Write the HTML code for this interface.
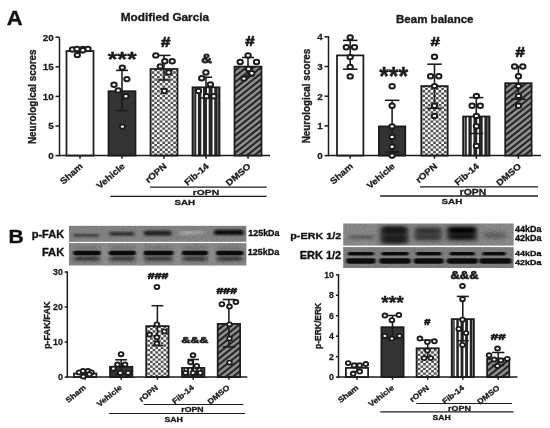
<!DOCTYPE html><html><head><meta charset="utf-8"><title>Figure</title><style>html,body{margin:0;padding:0;background:#fff}svg{display:block;filter:blur(0.35px)}</style></head><body><svg width="550" height="428" viewBox="0 0 550 428" font-family="'Liberation Sans', sans-serif" font-weight="bold">
<defs>
<filter id="b1" x="-20%" y="-100%" width="140%" height="300%"><feGaussianBlur stdDeviation="0.9 0.6"/></filter>
<filter id="b2" x="-20%" y="-100%" width="140%" height="300%"><feGaussianBlur stdDeviation="2 1.6"/></filter>
</defs>
<rect width="550" height="428" fill="#fff"/>

<defs><clipPath id="c1"><rect x="69" y="225.8" width="177.4" height="16"/></clipPath><clipPath id="c2"><rect x="69" y="243.1" width="177.4" height="22.4"/></clipPath><clipPath id="c3"><rect x="343.2" y="223.5" width="170.5" height="22.1"/></clipPath><clipPath id="c4"><rect x="343.2" y="247.1" width="170.5" height="20.9"/></clipPath>
<filter id="grain" x="0" y="0" width="100%" height="100%"><feTurbulence type="fractalNoise" baseFrequency="0.55" numOctaves="2" seed="7" result="n"/><feColorMatrix in="n" type="matrix" values="0 0 0 0 0  0 0 0 0 0  0 0 0 0 0  0.9 0.9 0 0 -0.62"/><feComposite operator="in" in2="SourceGraphic"/></filter>
<filter id="b4" x="-20%" y="-150%" width="140%" height="400%"><feGaussianBlur stdDeviation="1.7 0.9"/></filter>
<filter id="b3" x="-30%" y="-60%" width="160%" height="220%"><feGaussianBlur stdDeviation="2.6 2.2"/></filter>
</defs>
<text transform="translate(6.83,24.93) scale(0.2200,0.2065)" font-size="100" fill="#111" stroke="#111" stroke-width="1.64" stroke-linejoin="round">A</text>
<text transform="translate(8.61,243.42) scale(0.2106,0.1891)" font-size="100" fill="#111" stroke="#111" stroke-width="1.75" stroke-linejoin="round">B</text>
<rect x="66.50" y="51.00" width="27.00" height="104.60" fill="#fff" stroke="#1c1c1c" stroke-width="1.75"/>
<rect x="108.50" y="91.20" width="27.00" height="64.40" fill="#333" stroke="#1c1c1c" stroke-width="1.75"/>
<clipPath id="k1"><rect x="150.50" y="69.00" width="27.00" height="86.60"/></clipPath>
<rect x="150.50" y="69.00" width="27.00" height="86.60" fill="#fafafa"/>
<path d="M150.50 154.43H177.50M150.50 149.75H177.50M150.50 145.07H177.50M150.50 140.39H177.50M150.50 135.71H177.50M150.50 131.03H177.50M150.50 126.35H177.50M150.50 121.67H177.50M150.50 116.99H177.50M150.50 112.31H177.50M150.50 107.63H177.50M150.50 102.95H177.50M150.50 98.27H177.50M150.50 93.59H177.50M150.50 88.91H177.50M150.50 84.23H177.50M150.50 79.55H177.50M150.50 74.87H177.50M150.50 70.19H177.50" stroke="#505050" stroke-width="2.340" stroke-dasharray="2.700 2.700" stroke-dashoffset="1.620" fill="none" clip-path="url(#k1)"/>
<path d="M150.50 152.09H177.50M150.50 147.41H177.50M150.50 142.73H177.50M150.50 138.05H177.50M150.50 133.37H177.50M150.50 128.69H177.50M150.50 124.01H177.50M150.50 119.33H177.50M150.50 114.65H177.50M150.50 109.97H177.50M150.50 105.29H177.50M150.50 100.61H177.50M150.50 95.93H177.50M150.50 91.25H177.50M150.50 86.57H177.50M150.50 81.89H177.50M150.50 77.21H177.50M150.50 72.53H177.50M150.50 67.85H177.50" stroke="#505050" stroke-width="2.340" stroke-dasharray="2.700 2.700" stroke-dashoffset="4.320" fill="none" clip-path="url(#k1)"/>
<rect x="150.50" y="69.00" width="27.00" height="86.60" fill="none" stroke="#1c1c1c" stroke-width="1.75"/>
<clipPath id="k2"><rect x="192.50" y="87.30" width="27.00" height="68.30"/></clipPath>
<rect x="192.50" y="87.30" width="27.00" height="68.30" fill="#262626"/>
<line x1="194.00" y1="87.30" x2="194.00" y2="155.60" stroke="#8a8a8a" stroke-width="1.0"/>
<line x1="197.10" y1="87.30" x2="197.10" y2="155.60" stroke="#ffffff" stroke-width="1.6"/>
<line x1="202.20" y1="87.30" x2="202.20" y2="155.60" stroke="#ffffff" stroke-width="1.7"/>
<line x1="207.80" y1="87.30" x2="207.80" y2="155.60" stroke="#ffffff" stroke-width="1.7"/>
<line x1="213.40" y1="87.30" x2="213.40" y2="155.60" stroke="#ffffff" stroke-width="1.7"/>
<line x1="217.90" y1="87.30" x2="217.90" y2="155.60" stroke="#8a8a8a" stroke-width="1.0"/>
<rect x="192.50" y="87.30" width="27.00" height="68.30" fill="none" stroke="#1c1c1c" stroke-width="1.75"/>
<clipPath id="k3"><rect x="234.50" y="66.60" width="27.00" height="89.00"/></clipPath>
<rect x="234.50" y="66.60" width="27.00" height="89.00" fill="#8e8e8e"/>
<path d="M233.50 177.87L262.50 154.80M233.50 171.97L262.50 148.90M233.50 166.07L262.50 143.00M233.50 160.17L262.50 137.10M233.50 154.27L262.50 131.20M233.50 148.37L262.50 125.30M233.50 142.47L262.50 119.40M233.50 136.57L262.50 113.50M233.50 130.67L262.50 107.60M233.50 124.77L262.50 101.70M233.50 118.87L262.50 95.80M233.50 112.97L262.50 89.90M233.50 107.07L262.50 84.00M233.50 101.17L262.50 78.10M233.50 95.27L262.50 72.20M233.50 89.37L262.50 66.30M233.50 83.47L262.50 60.40M233.50 77.57L262.50 54.50M233.50 71.67L262.50 48.60M233.50 65.77L262.50 42.70" stroke="#262626" stroke-width="2.1" fill="none" clip-path="url(#k3)"/>
<rect x="234.50" y="66.60" width="27.00" height="89.00" fill="none" stroke="#1c1c1c" stroke-width="1.75"/>
<line x1="59.50" y1="37.30" x2="59.50" y2="156.30" stroke="#1c1c1c" stroke-width="1.5"/>
<line x1="58.80" y1="155.60" x2="270.00" y2="155.60" stroke="#1c1c1c" stroke-width="1.5"/>
<line x1="55.50" y1="37.20" x2="59.50" y2="37.20" stroke="#1c1c1c" stroke-width="1.5"/>
<text transform="translate(53.70,40.58) scale(1.05,1)" font-size="9.4" text-anchor="end" fill="#1c1c1c" stroke="#1c1c1c" stroke-width="0.25">20</text>
<line x1="55.50" y1="66.80" x2="59.50" y2="66.80" stroke="#1c1c1c" stroke-width="1.5"/>
<text transform="translate(53.70,70.18) scale(1.05,1)" font-size="9.4" text-anchor="end" fill="#1c1c1c" stroke="#1c1c1c" stroke-width="0.25">15</text>
<line x1="55.50" y1="96.40" x2="59.50" y2="96.40" stroke="#1c1c1c" stroke-width="1.5"/>
<text transform="translate(53.70,99.78) scale(1.05,1)" font-size="9.4" text-anchor="end" fill="#1c1c1c" stroke="#1c1c1c" stroke-width="0.25">10</text>
<line x1="55.50" y1="126.00" x2="59.50" y2="126.00" stroke="#1c1c1c" stroke-width="1.5"/>
<text transform="translate(53.70,129.38) scale(1.05,1)" font-size="9.4" text-anchor="end" fill="#1c1c1c" stroke="#1c1c1c" stroke-width="0.25">5</text>
<line x1="55.50" y1="155.60" x2="59.50" y2="155.60" stroke="#1c1c1c" stroke-width="1.5"/>
<text transform="translate(53.70,158.98) scale(1.05,1)" font-size="9.4" text-anchor="end" fill="#1c1c1c" stroke="#1c1c1c" stroke-width="0.25">0</text>
<line x1="80.00" y1="155.60" x2="80.00" y2="158.80" stroke="#1c1c1c" stroke-width="1.5"/>
<line x1="122.00" y1="155.60" x2="122.00" y2="158.80" stroke="#1c1c1c" stroke-width="1.5"/>
<line x1="164.00" y1="155.60" x2="164.00" y2="158.80" stroke="#1c1c1c" stroke-width="1.5"/>
<line x1="206.00" y1="155.60" x2="206.00" y2="158.80" stroke="#1c1c1c" stroke-width="1.5"/>
<line x1="248.00" y1="155.60" x2="248.00" y2="158.80" stroke="#1c1c1c" stroke-width="1.5"/>
<line x1="80.00" y1="49.50" x2="80.00" y2="52.50" stroke="#1c1c1c" stroke-width="1.55"/>
<line x1="75.50" y1="49.50" x2="84.50" y2="49.50" stroke="#1c1c1c" stroke-width="1.55"/>
<line x1="75.50" y1="52.50" x2="84.50" y2="52.50" stroke="#1c1c1c" stroke-width="1.55"/>
<line x1="122.00" y1="70.40" x2="122.00" y2="110.60" stroke="#1c1c1c" stroke-width="1.55"/>
<line x1="116.00" y1="70.40" x2="128.00" y2="70.40" stroke="#1c1c1c" stroke-width="1.55"/>
<line x1="116.00" y1="110.60" x2="128.00" y2="110.60" stroke="#1c1c1c" stroke-width="1.55"/>
<line x1="164.00" y1="55.40" x2="164.00" y2="80.00" stroke="#1c1c1c" stroke-width="1.55"/>
<line x1="157.50" y1="55.40" x2="170.50" y2="55.40" stroke="#1c1c1c" stroke-width="1.55"/>
<line x1="157.50" y1="80.00" x2="170.50" y2="80.00" stroke="#1c1c1c" stroke-width="1.55"/>
<line x1="206.00" y1="77.20" x2="206.00" y2="98.00" stroke="#1c1c1c" stroke-width="1.55"/>
<line x1="200.00" y1="77.20" x2="212.00" y2="77.20" stroke="#1c1c1c" stroke-width="1.55"/>
<line x1="200.00" y1="98.00" x2="212.00" y2="98.00" stroke="#1c1c1c" stroke-width="1.55"/>
<line x1="248.00" y1="57.50" x2="248.00" y2="76.00" stroke="#1c1c1c" stroke-width="1.55"/>
<line x1="242.00" y1="57.50" x2="254.00" y2="57.50" stroke="#1c1c1c" stroke-width="1.55"/>
<line x1="242.00" y1="76.00" x2="254.00" y2="76.00" stroke="#1c1c1c" stroke-width="1.55"/>
<ellipse cx="72.50" cy="49.50" rx="2.65" ry="2.2" fill="#fff" stroke="#1c1c1c" stroke-width="2.0"/>
<ellipse cx="77.00" cy="49.00" rx="2.65" ry="2.2" fill="#fff" stroke="#1c1c1c" stroke-width="2.0"/>
<ellipse cx="83.00" cy="49.00" rx="2.65" ry="2.2" fill="#fff" stroke="#1c1c1c" stroke-width="2.0"/>
<ellipse cx="88.00" cy="49.00" rx="2.65" ry="2.2" fill="#fff" stroke="#1c1c1c" stroke-width="2.0"/>
<ellipse cx="77.30" cy="55.10" rx="2.65" ry="2.2" fill="#fff" stroke="#1c1c1c" stroke-width="2.0"/>
<ellipse cx="82.80" cy="50.30" rx="2.65" ry="2.2" fill="#fff" stroke="#1c1c1c" stroke-width="2.0"/>
<ellipse cx="122.30" cy="67.60" rx="2.65" ry="2.2" fill="#fff" stroke="#1c1c1c" stroke-width="2.0"/>
<ellipse cx="126.90" cy="79.10" rx="2.65" ry="2.2" fill="#fff" stroke="#1c1c1c" stroke-width="2.0"/>
<ellipse cx="114.00" cy="84.80" rx="2.65" ry="2.2" fill="#fff" stroke="#1c1c1c" stroke-width="2.0"/>
<ellipse cx="118.20" cy="90.40" rx="2.65" ry="2.2" fill="#fff" stroke="#1c1c1c" stroke-width="2.0"/>
<ellipse cx="125.90" cy="96.30" rx="2.65" ry="2.2" fill="#fff" stroke="#1c1c1c" stroke-width="2.0"/>
<ellipse cx="122.40" cy="126.60" rx="2.65" ry="2.2" fill="#fff" stroke="#1c1c1c" stroke-width="2.0"/>
<ellipse cx="155.80" cy="55.40" rx="2.65" ry="2.2" fill="#fff" stroke="#1c1c1c" stroke-width="2.0"/>
<ellipse cx="164.80" cy="61.20" rx="2.65" ry="2.2" fill="#fff" stroke="#1c1c1c" stroke-width="2.0"/>
<ellipse cx="172.20" cy="61.20" rx="2.65" ry="2.2" fill="#fff" stroke="#1c1c1c" stroke-width="2.0"/>
<ellipse cx="160.30" cy="66.40" rx="2.65" ry="2.2" fill="#fff" stroke="#1c1c1c" stroke-width="2.0"/>
<ellipse cx="168.80" cy="72.50" rx="2.65" ry="2.2" fill="#fff" stroke="#1c1c1c" stroke-width="2.0"/>
<ellipse cx="164.30" cy="91.00" rx="2.65" ry="2.2" fill="#fff" stroke="#1c1c1c" stroke-width="2.0"/>
<ellipse cx="205.90" cy="72.50" rx="2.65" ry="2.2" fill="#fff" stroke="#1c1c1c" stroke-width="2.0"/>
<ellipse cx="201.70" cy="78.30" rx="2.65" ry="2.2" fill="#fff" stroke="#1c1c1c" stroke-width="2.0"/>
<ellipse cx="210.40" cy="84.40" rx="2.65" ry="2.2" fill="#fff" stroke="#1c1c1c" stroke-width="2.0"/>
<ellipse cx="198.50" cy="91.00" rx="2.65" ry="2.2" fill="#fff" stroke="#1c1c1c" stroke-width="2.0"/>
<ellipse cx="206.50" cy="96.20" rx="2.65" ry="2.2" fill="#fff" stroke="#1c1c1c" stroke-width="2.0"/>
<ellipse cx="213.80" cy="96.20" rx="2.65" ry="2.2" fill="#fff" stroke="#1c1c1c" stroke-width="2.0"/>
<ellipse cx="248.10" cy="55.40" rx="2.65" ry="2.2" fill="#fff" stroke="#1c1c1c" stroke-width="2.0"/>
<ellipse cx="240.20" cy="62.00" rx="2.65" ry="2.2" fill="#fff" stroke="#1c1c1c" stroke-width="2.0"/>
<ellipse cx="256.50" cy="62.00" rx="2.65" ry="2.2" fill="#fff" stroke="#1c1c1c" stroke-width="2.0"/>
<ellipse cx="248.60" cy="69.00" rx="2.65" ry="2.2" fill="#fff" stroke="#1c1c1c" stroke-width="2.0"/>
<ellipse cx="251.80" cy="73.30" rx="2.65" ry="2.2" fill="#fff" stroke="#1c1c1c" stroke-width="2.0"/>
<ellipse cx="243.90" cy="78.60" rx="2.65" ry="2.2" fill="#fff" stroke="#1c1c1c" stroke-width="2.0"/>
<text transform="translate(120.81,20.92) scale(0.1177,0.1000)" font-size="100" fill="#1c1c1c" stroke="#1c1c1c" stroke-width="3.21" stroke-linejoin="round">Modified Garcia</text>
<text transform="translate(35.83,144.04) rotate(-90) scale(0.0990,0.1059)" font-size="100" fill="#1c1c1c" stroke="#1c1c1c" stroke-width="3.42">Neurological scores</text>
<text transform="translate(107.70,65.87) scale(0.2487,0.2054)" font-size="100" fill="#1c1c1c" stroke="#1c1c1c" stroke-width="1.76" stroke-linejoin="round">***</text>
<text transform="translate(160.95,46.90) scale(0.1698,0.1397)" font-size="100" fill="#1c1c1c" stroke="#1c1c1c" stroke-width="5.17" stroke-linejoin="round">#</text>
<text transform="translate(201.31,62.97) scale(0.1481,0.1314)" font-size="100" fill="#1c1c1c" stroke="#1c1c1c" stroke-width="5.72" stroke-linejoin="round">&amp;</text>
<text transform="translate(245.15,46.40) scale(0.1698,0.1397)" font-size="100" fill="#1c1c1c" stroke="#1c1c1c" stroke-width="5.17" stroke-linejoin="round">#</text>
<text transform="translate(83.40,167.10) rotate(-41) scale(1.12,1)" font-size="8.8" text-anchor="end" fill="#1c1c1c" stroke="#1c1c1c" stroke-width="0.3">Sham</text>
<text transform="translate(125.40,167.10) rotate(-41) scale(1.12,1)" font-size="8.8" text-anchor="end" fill="#1c1c1c" stroke="#1c1c1c" stroke-width="0.3">Vehicle</text>
<text transform="translate(167.40,167.10) rotate(-41) scale(1.12,1)" font-size="8.8" text-anchor="end" fill="#1c1c1c" stroke="#1c1c1c" stroke-width="0.3">rOPN</text>
<text transform="translate(209.40,167.10) rotate(-41) scale(1.12,1)" font-size="8.8" text-anchor="end" fill="#1c1c1c" stroke="#1c1c1c" stroke-width="0.3">Fib-14</text>
<text transform="translate(251.40,167.10) rotate(-41) scale(1.12,1)" font-size="8.8" text-anchor="end" fill="#1c1c1c" stroke="#1c1c1c" stroke-width="0.3">DMSO</text>
<line x1="150.00" y1="187.20" x2="266.70" y2="187.20" stroke="#1c1c1c" stroke-width="1.3"/>
<text transform="translate(192.80,194.64) scale(0.1033,0.0810)" font-size="100" fill="#1c1c1c" stroke="#1c1c1c" stroke-width="3.80" stroke-linejoin="round">rOPN</text>
<line x1="110.30" y1="196.40" x2="266.70" y2="196.40" stroke="#1c1c1c" stroke-width="1.3"/>
<text transform="translate(174.43,204.64) scale(0.0973,0.0810)" font-size="100" fill="#1c1c1c" stroke="#1c1c1c" stroke-width="3.93" stroke-linejoin="round">SAH</text>
<rect x="337.00" y="55.40" width="26.40" height="100.20" fill="#fff" stroke="#1c1c1c" stroke-width="1.75"/>
<rect x="378.90" y="126.40" width="26.40" height="29.20" fill="#333" stroke="#1c1c1c" stroke-width="1.75"/>
<clipPath id="k4"><rect x="421.30" y="86.10" width="26.40" height="69.50"/></clipPath>
<rect x="421.30" y="86.10" width="26.40" height="69.50" fill="#fafafa"/>
<path d="M421.30 154.43H447.70M421.30 149.75H447.70M421.30 145.07H447.70M421.30 140.39H447.70M421.30 135.71H447.70M421.30 131.03H447.70M421.30 126.35H447.70M421.30 121.67H447.70M421.30 116.99H447.70M421.30 112.31H447.70M421.30 107.63H447.70M421.30 102.95H447.70M421.30 98.27H447.70M421.30 93.59H447.70M421.30 88.91H447.70M421.30 84.23H447.70" stroke="#505050" stroke-width="2.340" stroke-dasharray="2.700 2.700" stroke-dashoffset="1.620" fill="none" clip-path="url(#k4)"/>
<path d="M421.30 152.09H447.70M421.30 147.41H447.70M421.30 142.73H447.70M421.30 138.05H447.70M421.30 133.37H447.70M421.30 128.69H447.70M421.30 124.01H447.70M421.30 119.33H447.70M421.30 114.65H447.70M421.30 109.97H447.70M421.30 105.29H447.70M421.30 100.61H447.70M421.30 95.93H447.70M421.30 91.25H447.70M421.30 86.57H447.70" stroke="#505050" stroke-width="2.340" stroke-dasharray="2.700 2.700" stroke-dashoffset="4.320" fill="none" clip-path="url(#k4)"/>
<rect x="421.30" y="86.10" width="26.40" height="69.50" fill="none" stroke="#1c1c1c" stroke-width="1.75"/>
<clipPath id="k5"><rect x="463.10" y="116.50" width="26.40" height="39.10"/></clipPath>
<rect x="463.10" y="116.50" width="26.40" height="39.10" fill="#262626"/>
<line x1="464.57" y1="116.50" x2="464.57" y2="155.60" stroke="#8a8a8a" stroke-width="1.0"/>
<line x1="467.60" y1="116.50" x2="467.60" y2="155.60" stroke="#ffffff" stroke-width="1.6"/>
<line x1="472.58" y1="116.50" x2="472.58" y2="155.60" stroke="#ffffff" stroke-width="1.7"/>
<line x1="478.06" y1="116.50" x2="478.06" y2="155.60" stroke="#ffffff" stroke-width="1.7"/>
<line x1="483.54" y1="116.50" x2="483.54" y2="155.60" stroke="#ffffff" stroke-width="1.7"/>
<line x1="487.94" y1="116.50" x2="487.94" y2="155.60" stroke="#8a8a8a" stroke-width="1.0"/>
<rect x="463.10" y="116.50" width="26.40" height="39.10" fill="none" stroke="#1c1c1c" stroke-width="1.75"/>
<clipPath id="k6"><rect x="505.20" y="83.20" width="26.40" height="72.40"/></clipPath>
<rect x="505.20" y="83.20" width="26.40" height="72.40" fill="#8e8e8e"/>
<path d="M504.20 177.39L532.60 154.80M504.20 171.49L532.60 148.90M504.20 165.59L532.60 143.00M504.20 159.69L532.60 137.10M504.20 153.79L532.60 131.20M504.20 147.89L532.60 125.30M504.20 141.99L532.60 119.40M504.20 136.09L532.60 113.50M504.20 130.19L532.60 107.60M504.20 124.29L532.60 101.70M504.20 118.39L532.60 95.80M504.20 112.49L532.60 89.90M504.20 106.59L532.60 84.00M504.20 100.69L532.60 78.10M504.20 94.79L532.60 72.20M504.20 88.89L532.60 66.30M504.20 82.99L532.60 60.40" stroke="#262626" stroke-width="2.1" fill="none" clip-path="url(#k6)"/>
<rect x="505.20" y="83.20" width="26.40" height="72.40" fill="none" stroke="#1c1c1c" stroke-width="1.75"/>
<line x1="328.50" y1="36.00" x2="328.50" y2="156.30" stroke="#1c1c1c" stroke-width="1.5"/>
<line x1="327.80" y1="155.60" x2="541.00" y2="155.60" stroke="#1c1c1c" stroke-width="1.5"/>
<line x1="324.50" y1="36.80" x2="328.50" y2="36.80" stroke="#1c1c1c" stroke-width="1.5"/>
<text transform="translate(322.70,40.18) scale(1.05,1)" font-size="9.4" text-anchor="end" fill="#1c1c1c" stroke="#1c1c1c" stroke-width="0.25">4</text>
<line x1="324.50" y1="66.50" x2="328.50" y2="66.50" stroke="#1c1c1c" stroke-width="1.5"/>
<text transform="translate(322.70,69.88) scale(1.05,1)" font-size="9.4" text-anchor="end" fill="#1c1c1c" stroke="#1c1c1c" stroke-width="0.25">3</text>
<line x1="324.50" y1="96.20" x2="328.50" y2="96.20" stroke="#1c1c1c" stroke-width="1.5"/>
<text transform="translate(322.70,99.58) scale(1.05,1)" font-size="9.4" text-anchor="end" fill="#1c1c1c" stroke="#1c1c1c" stroke-width="0.25">2</text>
<line x1="324.50" y1="125.90" x2="328.50" y2="125.90" stroke="#1c1c1c" stroke-width="1.5"/>
<text transform="translate(322.70,129.28) scale(1.05,1)" font-size="9.4" text-anchor="end" fill="#1c1c1c" stroke="#1c1c1c" stroke-width="0.25">1</text>
<line x1="324.50" y1="155.60" x2="328.50" y2="155.60" stroke="#1c1c1c" stroke-width="1.5"/>
<text transform="translate(322.70,158.98) scale(1.05,1)" font-size="9.4" text-anchor="end" fill="#1c1c1c" stroke="#1c1c1c" stroke-width="0.25">0</text>
<line x1="350.20" y1="155.60" x2="350.20" y2="158.80" stroke="#1c1c1c" stroke-width="1.5"/>
<line x1="392.10" y1="155.60" x2="392.10" y2="158.80" stroke="#1c1c1c" stroke-width="1.5"/>
<line x1="434.50" y1="155.60" x2="434.50" y2="158.80" stroke="#1c1c1c" stroke-width="1.5"/>
<line x1="476.30" y1="155.60" x2="476.30" y2="158.80" stroke="#1c1c1c" stroke-width="1.5"/>
<line x1="518.40" y1="155.60" x2="518.40" y2="158.80" stroke="#1c1c1c" stroke-width="1.5"/>
<line x1="350.20" y1="40.40" x2="350.20" y2="69.20" stroke="#1c1c1c" stroke-width="1.55"/>
<line x1="342.95" y1="40.40" x2="357.45" y2="40.40" stroke="#1c1c1c" stroke-width="1.55"/>
<line x1="342.95" y1="69.20" x2="357.45" y2="69.20" stroke="#1c1c1c" stroke-width="1.55"/>
<line x1="392.10" y1="100.30" x2="392.10" y2="152.00" stroke="#1c1c1c" stroke-width="1.55"/>
<line x1="384.85" y1="100.30" x2="399.35" y2="100.30" stroke="#1c1c1c" stroke-width="1.55"/>
<line x1="384.85" y1="152.00" x2="399.35" y2="152.00" stroke="#1c1c1c" stroke-width="1.55"/>
<line x1="434.50" y1="64.20" x2="434.50" y2="108.40" stroke="#1c1c1c" stroke-width="1.55"/>
<line x1="427.25" y1="64.20" x2="441.75" y2="64.20" stroke="#1c1c1c" stroke-width="1.55"/>
<line x1="427.25" y1="108.40" x2="441.75" y2="108.40" stroke="#1c1c1c" stroke-width="1.55"/>
<line x1="476.30" y1="97.60" x2="476.30" y2="133.50" stroke="#1c1c1c" stroke-width="1.55"/>
<line x1="469.30" y1="97.60" x2="483.30" y2="97.60" stroke="#1c1c1c" stroke-width="1.55"/>
<line x1="469.30" y1="133.50" x2="483.30" y2="133.50" stroke="#1c1c1c" stroke-width="1.55"/>
<line x1="518.40" y1="66.50" x2="518.40" y2="99.20" stroke="#1c1c1c" stroke-width="1.55"/>
<line x1="511.15" y1="66.50" x2="525.65" y2="66.50" stroke="#1c1c1c" stroke-width="1.55"/>
<line x1="511.15" y1="99.20" x2="525.65" y2="99.20" stroke="#1c1c1c" stroke-width="1.55"/>
<ellipse cx="350.20" cy="37.40" rx="2.65" ry="2.2" fill="#fff" stroke="#1c1c1c" stroke-width="2.0"/>
<ellipse cx="346.30" cy="47.30" rx="2.65" ry="2.2" fill="#fff" stroke="#1c1c1c" stroke-width="2.0"/>
<ellipse cx="354.50" cy="47.30" rx="2.65" ry="2.2" fill="#fff" stroke="#1c1c1c" stroke-width="2.0"/>
<ellipse cx="350.20" cy="57.10" rx="2.65" ry="2.2" fill="#fff" stroke="#1c1c1c" stroke-width="2.0"/>
<ellipse cx="350.20" cy="66.90" rx="2.65" ry="2.2" fill="#fff" stroke="#1c1c1c" stroke-width="2.0"/>
<ellipse cx="350.20" cy="76.40" rx="2.65" ry="2.2" fill="#fff" stroke="#1c1c1c" stroke-width="2.0"/>
<ellipse cx="392.10" cy="86.20" rx="2.65" ry="2.2" fill="#fff" stroke="#1c1c1c" stroke-width="2.0"/>
<ellipse cx="392.10" cy="105.80" rx="2.65" ry="2.2" fill="#fff" stroke="#1c1c1c" stroke-width="2.0"/>
<ellipse cx="392.10" cy="126.40" rx="2.65" ry="2.2" fill="#fff" stroke="#1c1c1c" stroke-width="2.0"/>
<ellipse cx="392.10" cy="136.90" rx="2.65" ry="2.2" fill="#fff" stroke="#1c1c1c" stroke-width="2.0"/>
<ellipse cx="392.10" cy="146.70" rx="2.65" ry="2.2" fill="#fff" stroke="#1c1c1c" stroke-width="2.0"/>
<ellipse cx="392.10" cy="155.60" rx="2.65" ry="2.2" fill="#fff" stroke="#1c1c1c" stroke-width="2.0"/>
<ellipse cx="434.50" cy="56.70" rx="2.65" ry="2.2" fill="#fff" stroke="#1c1c1c" stroke-width="2.0"/>
<ellipse cx="430.60" cy="76.30" rx="2.65" ry="2.2" fill="#fff" stroke="#1c1c1c" stroke-width="2.0"/>
<ellipse cx="438.80" cy="76.30" rx="2.65" ry="2.2" fill="#fff" stroke="#1c1c1c" stroke-width="2.0"/>
<ellipse cx="434.50" cy="86.10" rx="2.65" ry="2.2" fill="#fff" stroke="#1c1c1c" stroke-width="2.0"/>
<ellipse cx="434.50" cy="105.70" rx="2.65" ry="2.2" fill="#fff" stroke="#1c1c1c" stroke-width="2.0"/>
<ellipse cx="434.50" cy="115.90" rx="2.65" ry="2.2" fill="#fff" stroke="#1c1c1c" stroke-width="2.0"/>
<ellipse cx="476.40" cy="95.90" rx="2.65" ry="2.2" fill="#fff" stroke="#1c1c1c" stroke-width="2.0"/>
<ellipse cx="472.10" cy="105.70" rx="2.65" ry="2.2" fill="#fff" stroke="#1c1c1c" stroke-width="2.0"/>
<ellipse cx="480.30" cy="105.70" rx="2.65" ry="2.2" fill="#fff" stroke="#1c1c1c" stroke-width="2.0"/>
<ellipse cx="476.40" cy="115.90" rx="2.65" ry="2.2" fill="#fff" stroke="#1c1c1c" stroke-width="2.0"/>
<ellipse cx="476.40" cy="126.30" rx="2.65" ry="2.2" fill="#fff" stroke="#1c1c1c" stroke-width="2.0"/>
<ellipse cx="476.40" cy="146.00" rx="2.65" ry="2.2" fill="#fff" stroke="#1c1c1c" stroke-width="2.0"/>
<ellipse cx="514.60" cy="66.50" rx="2.65" ry="2.2" fill="#fff" stroke="#1c1c1c" stroke-width="2.0"/>
<ellipse cx="522.80" cy="66.50" rx="2.65" ry="2.2" fill="#fff" stroke="#1c1c1c" stroke-width="2.0"/>
<ellipse cx="518.50" cy="76.30" rx="2.65" ry="2.2" fill="#fff" stroke="#1c1c1c" stroke-width="2.0"/>
<ellipse cx="518.50" cy="86.10" rx="2.65" ry="2.2" fill="#fff" stroke="#1c1c1c" stroke-width="2.0"/>
<ellipse cx="518.50" cy="95.90" rx="2.65" ry="2.2" fill="#fff" stroke="#1c1c1c" stroke-width="2.0"/>
<ellipse cx="518.50" cy="105.70" rx="2.65" ry="2.2" fill="#fff" stroke="#1c1c1c" stroke-width="2.0"/>
<text transform="translate(396.03,23.21) scale(0.1153,0.1177)" font-size="100" fill="#1c1c1c" stroke="#1c1c1c" stroke-width="3.00" stroke-linejoin="round">Beam balance</text>
<text transform="translate(310.45,143.34) rotate(-90) scale(0.0992,0.1070)" font-size="100" fill="#1c1c1c" stroke="#1c1c1c" stroke-width="3.40">Neurological scores</text>
<text transform="translate(379.20,85.42) scale(0.2479,0.2568)" font-size="100" fill="#1c1c1c" stroke="#1c1c1c" stroke-width="1.59" stroke-linejoin="round">***</text>
<text transform="translate(430.45,45.80) scale(0.1698,0.1324)" font-size="100" fill="#1c1c1c" stroke="#1c1c1c" stroke-width="5.30" stroke-linejoin="round">#</text>
<text transform="translate(515.45,57.30) scale(0.1698,0.1426)" font-size="100" fill="#1c1c1c" stroke="#1c1c1c" stroke-width="5.12" stroke-linejoin="round">#</text>
<text transform="translate(353.60,167.10) rotate(-41) scale(1.12,1)" font-size="8.8" text-anchor="end" fill="#1c1c1c" stroke="#1c1c1c" stroke-width="0.3">Sham</text>
<text transform="translate(395.50,167.10) rotate(-41) scale(1.12,1)" font-size="8.8" text-anchor="end" fill="#1c1c1c" stroke="#1c1c1c" stroke-width="0.3">Vehicle</text>
<text transform="translate(437.90,167.10) rotate(-41) scale(1.12,1)" font-size="8.8" text-anchor="end" fill="#1c1c1c" stroke="#1c1c1c" stroke-width="0.3">rOPN</text>
<text transform="translate(479.70,167.10) rotate(-41) scale(1.12,1)" font-size="8.8" text-anchor="end" fill="#1c1c1c" stroke="#1c1c1c" stroke-width="0.3">Fib-14</text>
<text transform="translate(521.80,167.10) rotate(-41) scale(1.12,1)" font-size="8.8" text-anchor="end" fill="#1c1c1c" stroke="#1c1c1c" stroke-width="0.3">DMSO</text>
<line x1="420.00" y1="186.80" x2="538.00" y2="186.80" stroke="#1c1c1c" stroke-width="1.3"/>
<text transform="translate(459.70,194.54) scale(0.1041,0.0852)" font-size="100" fill="#1c1c1c" stroke="#1c1c1c" stroke-width="3.70" stroke-linejoin="round">rOPN</text>
<line x1="380.20" y1="196.00" x2="538.00" y2="196.00" stroke="#1c1c1c" stroke-width="1.3"/>
<text transform="translate(441.53,204.05) scale(0.0983,0.0796)" font-size="100" fill="#1c1c1c" stroke="#1c1c1c" stroke-width="3.94" stroke-linejoin="round">SAH</text>
<rect x="69" y="225.8" width="177.4" height="16" fill="#888"/>
<rect x="69" y="243.1" width="177.4" height="22.4" fill="#8c8c8c"/>
<g clip-path="url(#c1)">
<rect x="73.6" y="233.9" width="25.5" height="2.8" rx="1.4" fill="#333" opacity="0.85" filter="url(#b4)"/>
<rect x="109.0" y="232.0" width="25.5" height="3.4" rx="1.7" fill="#262626" opacity="0.92" filter="url(#b4)"/>
<rect x="143.6" y="230.8" width="28.2" height="4.6" rx="2.3" fill="#1c1c1c" opacity="0.95" filter="url(#b4)"/>
<rect x="180.0" y="231.4" width="24.5" height="3.0" rx="1.5" fill="#c4c4c4" opacity="0.8" filter="url(#b4)"/>
<rect x="192.0" y="233.0" width="12.0" height="1.6" rx="0.8" fill="#555" opacity="0.35" filter="url(#b4)"/>
<rect x="214.0" y="229.7" width="30.0" height="5.4" rx="2.7" fill="#0c0c0c" opacity="1" filter="url(#b4)"/>
<rect x="69" y="225.8" width="177.4" height="16" fill="#000" opacity="0.2" filter="url(#grain)"/>
</g><g clip-path="url(#c2)">
<rect x="74.0" y="256.4" width="26.0" height="4.4" rx="2.2" fill="#2e2e2e" opacity="0.9" filter="url(#b2)"/>
<rect x="75.0" y="246.8" width="24.0" height="3" rx="1.5" fill="#666" opacity="0.45" filter="url(#b2)"/>
<rect x="73.0" y="250.8" width="28.0" height="4.4" rx="2.2" fill="#0e0e0e" opacity="1" filter="url(#b1)"/>
<rect x="109.7" y="256.4" width="25.3" height="4.4" rx="2.2" fill="#2e2e2e" opacity="0.9" filter="url(#b2)"/>
<rect x="110.7" y="246.8" width="23.3" height="3" rx="1.5" fill="#666" opacity="0.45" filter="url(#b2)"/>
<rect x="108.7" y="250.8" width="27.3" height="4.4" rx="2.2" fill="#0e0e0e" opacity="1" filter="url(#b1)"/>
<rect x="144.3" y="256.4" width="28.3" height="4.4" rx="2.2" fill="#2e2e2e" opacity="0.9" filter="url(#b2)"/>
<rect x="145.3" y="246.8" width="26.3" height="3" rx="1.5" fill="#666" opacity="0.45" filter="url(#b2)"/>
<rect x="143.3" y="250.8" width="30.3" height="4.4" rx="2.2" fill="#0e0e0e" opacity="1" filter="url(#b1)"/>
<rect x="182.8" y="256.4" width="24.4" height="4.4" rx="2.2" fill="#2e2e2e" opacity="0.9" filter="url(#b2)"/>
<rect x="183.8" y="246.8" width="22.4" height="3" rx="1.5" fill="#666" opacity="0.45" filter="url(#b2)"/>
<rect x="181.8" y="250.8" width="26.4" height="4.4" rx="2.2" fill="#0e0e0e" opacity="1" filter="url(#b1)"/>
<rect x="216.8" y="256.4" width="25.8" height="4.4" rx="2.2" fill="#2e2e2e" opacity="0.9" filter="url(#b2)"/>
<rect x="217.8" y="246.8" width="23.8" height="3" rx="1.5" fill="#666" opacity="0.45" filter="url(#b2)"/>
<rect x="215.8" y="250.8" width="27.8" height="4.4" rx="2.2" fill="#0e0e0e" opacity="1" filter="url(#b1)"/>
<rect x="102.0" y="241.0" width="5.0" height="26" rx="3" fill="#a2a2a2" opacity="0.55" filter="url(#b2)"/>
<rect x="137.5" y="241.0" width="5.0" height="26" rx="3" fill="#a2a2a2" opacity="0.55" filter="url(#b2)"/>
<rect x="175.0" y="241.0" width="5.0" height="26" rx="3" fill="#a2a2a2" opacity="0.55" filter="url(#b2)"/>
<rect x="209.5" y="241.0" width="5.0" height="26" rx="3" fill="#a2a2a2" opacity="0.55" filter="url(#b2)"/>
<rect x="69" y="243.1" width="177.4" height="22.4" fill="#000" opacity="0.22" filter="url(#grain)"/>
</g>
<text transform="translate(31.66,238.14) scale(0.1106,0.1039)" font-size="100" fill="#111" stroke="#111" stroke-width="3.26" stroke-linejoin="round">p-FAK</text>
<text transform="translate(41.95,256.32) scale(0.1111,0.1065)" font-size="100" fill="#111" stroke="#111" stroke-width="3.22" stroke-linejoin="round">FAK</text>
<text transform="translate(248.24,235.63) scale(0.0894,0.0932)" font-size="100" fill="#111" stroke="#111" stroke-width="3.83" stroke-linejoin="round">125kDa</text>
<text transform="translate(247.84,254.93) scale(0.0894,0.0932)" font-size="100" fill="#111" stroke="#111" stroke-width="3.83" stroke-linejoin="round">125kDa</text>
<rect x="74.00" y="373.50" width="22.40" height="3.60" fill="#fff" stroke="#1c1c1c" stroke-width="1.75"/>
<rect x="110.00" y="366.80" width="22.40" height="10.30" fill="#333" stroke="#1c1c1c" stroke-width="1.75"/>
<clipPath id="k7"><rect x="146.20" y="326.10" width="22.40" height="51.00"/></clipPath>
<rect x="146.20" y="326.10" width="22.40" height="51.00" fill="#fafafa"/>
<path d="M146.20 375.93H168.60M146.20 371.25H168.60M146.20 366.57H168.60M146.20 361.89H168.60M146.20 357.21H168.60M146.20 352.53H168.60M146.20 347.85H168.60M146.20 343.17H168.60M146.20 338.49H168.60M146.20 333.81H168.60M146.20 329.13H168.60M146.20 324.45H168.60" stroke="#505050" stroke-width="2.340" stroke-dasharray="2.700 2.700" stroke-dashoffset="1.620" fill="none" clip-path="url(#k7)"/>
<path d="M146.20 373.59H168.60M146.20 368.91H168.60M146.20 364.23H168.60M146.20 359.55H168.60M146.20 354.87H168.60M146.20 350.19H168.60M146.20 345.51H168.60M146.20 340.83H168.60M146.20 336.15H168.60M146.20 331.47H168.60M146.20 326.79H168.60" stroke="#505050" stroke-width="2.340" stroke-dasharray="2.700 2.700" stroke-dashoffset="4.320" fill="none" clip-path="url(#k7)"/>
<rect x="146.20" y="326.10" width="22.40" height="51.00" fill="none" stroke="#1c1c1c" stroke-width="1.75"/>
<clipPath id="k8"><rect x="182.00" y="367.90" width="22.40" height="9.20"/></clipPath>
<rect x="182.00" y="367.90" width="22.40" height="9.20" fill="#262626"/>
<line x1="183.24" y1="367.90" x2="183.24" y2="377.10" stroke="#8a8a8a" stroke-width="1.0"/>
<line x1="185.82" y1="367.90" x2="185.82" y2="377.10" stroke="#ffffff" stroke-width="1.6"/>
<line x1="190.05" y1="367.90" x2="190.05" y2="377.10" stroke="#ffffff" stroke-width="1.7"/>
<line x1="194.69" y1="367.90" x2="194.69" y2="377.10" stroke="#ffffff" stroke-width="1.7"/>
<line x1="199.34" y1="367.90" x2="199.34" y2="377.10" stroke="#ffffff" stroke-width="1.7"/>
<line x1="203.07" y1="367.90" x2="203.07" y2="377.10" stroke="#8a8a8a" stroke-width="1.0"/>
<rect x="182.00" y="367.90" width="22.40" height="9.20" fill="none" stroke="#1c1c1c" stroke-width="1.75"/>
<clipPath id="k9"><rect x="217.70" y="323.90" width="22.40" height="53.20"/></clipPath>
<rect x="217.70" y="323.90" width="22.40" height="53.20" fill="#8e8e8e"/>
<path d="M216.70 395.71L241.10 376.30M216.70 389.81L241.10 370.40M216.70 383.91L241.10 364.50M216.70 378.01L241.10 358.60M216.70 372.11L241.10 352.70M216.70 366.21L241.10 346.80M216.70 360.31L241.10 340.90M216.70 354.41L241.10 335.00M216.70 348.51L241.10 329.10M216.70 342.61L241.10 323.20M216.70 336.71L241.10 317.30M216.70 330.81L241.10 311.40M216.70 324.91L241.10 305.50" stroke="#262626" stroke-width="2.1" fill="none" clip-path="url(#k9)"/>
<rect x="217.70" y="323.90" width="22.40" height="53.20" fill="none" stroke="#1c1c1c" stroke-width="1.75"/>
<line x1="67.30" y1="271.30" x2="67.30" y2="377.80" stroke="#1c1c1c" stroke-width="1.5"/>
<line x1="66.60" y1="377.10" x2="247.30" y2="377.10" stroke="#1c1c1c" stroke-width="1.5"/>
<line x1="64.70" y1="272.01" x2="67.30" y2="272.01" stroke="#1c1c1c" stroke-width="1.5"/>
<text transform="translate(62.80,275.03) scale(1.05,1)" font-size="8.4" text-anchor="end" fill="#1c1c1c" stroke="#1c1c1c" stroke-width="0.25">30</text>
<line x1="64.70" y1="307.04" x2="67.30" y2="307.04" stroke="#1c1c1c" stroke-width="1.5"/>
<text transform="translate(62.80,310.06) scale(1.05,1)" font-size="8.4" text-anchor="end" fill="#1c1c1c" stroke="#1c1c1c" stroke-width="0.25">20</text>
<line x1="64.70" y1="342.07" x2="67.30" y2="342.07" stroke="#1c1c1c" stroke-width="1.5"/>
<text transform="translate(62.80,345.09) scale(1.05,1)" font-size="8.4" text-anchor="end" fill="#1c1c1c" stroke="#1c1c1c" stroke-width="0.25">10</text>
<line x1="64.70" y1="377.10" x2="67.30" y2="377.10" stroke="#1c1c1c" stroke-width="1.5"/>
<text transform="translate(62.80,380.12) scale(1.05,1)" font-size="8.4" text-anchor="end" fill="#1c1c1c" stroke="#1c1c1c" stroke-width="0.25">0</text>
<line x1="85.20" y1="377.10" x2="85.20" y2="379.70" stroke="#1c1c1c" stroke-width="1.5"/>
<line x1="121.20" y1="377.10" x2="121.20" y2="379.70" stroke="#1c1c1c" stroke-width="1.5"/>
<line x1="157.40" y1="377.10" x2="157.40" y2="379.70" stroke="#1c1c1c" stroke-width="1.5"/>
<line x1="193.20" y1="377.10" x2="193.20" y2="379.70" stroke="#1c1c1c" stroke-width="1.5"/>
<line x1="228.90" y1="377.10" x2="228.90" y2="379.70" stroke="#1c1c1c" stroke-width="1.5"/>
<line x1="85.20" y1="371.00" x2="85.20" y2="376.00" stroke="#1c1c1c" stroke-width="1.55"/>
<line x1="81.20" y1="371.00" x2="89.20" y2="371.00" stroke="#1c1c1c" stroke-width="1.55"/>
<line x1="81.20" y1="376.00" x2="89.20" y2="376.00" stroke="#1c1c1c" stroke-width="1.55"/>
<line x1="121.20" y1="359.80" x2="121.20" y2="374.00" stroke="#1c1c1c" stroke-width="1.55"/>
<line x1="115.30" y1="359.80" x2="127.10" y2="359.80" stroke="#1c1c1c" stroke-width="1.55"/>
<line x1="115.30" y1="374.00" x2="127.10" y2="374.00" stroke="#1c1c1c" stroke-width="1.55"/>
<line x1="157.40" y1="305.70" x2="157.40" y2="345.50" stroke="#1c1c1c" stroke-width="1.55"/>
<line x1="151.50" y1="305.70" x2="163.30" y2="305.70" stroke="#1c1c1c" stroke-width="1.55"/>
<line x1="151.50" y1="345.50" x2="163.30" y2="345.50" stroke="#1c1c1c" stroke-width="1.55"/>
<line x1="193.20" y1="359.50" x2="193.20" y2="375.00" stroke="#1c1c1c" stroke-width="1.55"/>
<line x1="187.40" y1="359.50" x2="199.00" y2="359.50" stroke="#1c1c1c" stroke-width="1.55"/>
<line x1="187.40" y1="375.00" x2="199.00" y2="375.00" stroke="#1c1c1c" stroke-width="1.55"/>
<line x1="228.90" y1="299.50" x2="228.90" y2="346.90" stroke="#1c1c1c" stroke-width="1.55"/>
<line x1="222.70" y1="299.50" x2="235.10" y2="299.50" stroke="#1c1c1c" stroke-width="1.55"/>
<line x1="222.70" y1="346.90" x2="235.10" y2="346.90" stroke="#1c1c1c" stroke-width="1.55"/>
<ellipse cx="79.10" cy="372.40" rx="2.4" ry="2.05" fill="#fff" stroke="#1c1c1c" stroke-width="1.85"/>
<ellipse cx="83.00" cy="371.00" rx="2.4" ry="2.05" fill="#fff" stroke="#1c1c1c" stroke-width="1.85"/>
<ellipse cx="88.00" cy="371.00" rx="2.4" ry="2.05" fill="#fff" stroke="#1c1c1c" stroke-width="1.85"/>
<ellipse cx="91.40" cy="372.40" rx="2.4" ry="2.05" fill="#fff" stroke="#1c1c1c" stroke-width="1.85"/>
<ellipse cx="83.30" cy="376.60" rx="2.4" ry="2.05" fill="#fff" stroke="#1c1c1c" stroke-width="1.85"/>
<ellipse cx="89.40" cy="374.30" rx="2.4" ry="2.05" fill="#fff" stroke="#1c1c1c" stroke-width="1.85"/>
<ellipse cx="121.10" cy="354.20" rx="2.4" ry="2.05" fill="#fff" stroke="#1c1c1c" stroke-width="1.85"/>
<ellipse cx="117.50" cy="364.50" rx="2.4" ry="2.05" fill="#fff" stroke="#1c1c1c" stroke-width="1.85"/>
<ellipse cx="125.00" cy="364.50" rx="2.4" ry="2.05" fill="#fff" stroke="#1c1c1c" stroke-width="1.85"/>
<ellipse cx="113.30" cy="368.70" rx="2.4" ry="2.05" fill="#fff" stroke="#1c1c1c" stroke-width="1.85"/>
<ellipse cx="120.30" cy="372.90" rx="2.4" ry="2.05" fill="#fff" stroke="#1c1c1c" stroke-width="1.85"/>
<ellipse cx="128.10" cy="372.90" rx="2.4" ry="2.05" fill="#fff" stroke="#1c1c1c" stroke-width="1.85"/>
<ellipse cx="156.90" cy="286.90" rx="2.4" ry="2.05" fill="#fff" stroke="#1c1c1c" stroke-width="1.85"/>
<ellipse cx="156.90" cy="324.40" rx="2.4" ry="2.05" fill="#fff" stroke="#1c1c1c" stroke-width="1.85"/>
<ellipse cx="149.60" cy="334.50" rx="2.4" ry="2.05" fill="#fff" stroke="#1c1c1c" stroke-width="1.85"/>
<ellipse cx="164.40" cy="331.40" rx="2.4" ry="2.05" fill="#fff" stroke="#1c1c1c" stroke-width="1.85"/>
<ellipse cx="156.90" cy="337.30" rx="2.4" ry="2.05" fill="#fff" stroke="#1c1c1c" stroke-width="1.85"/>
<ellipse cx="156.90" cy="343.50" rx="2.4" ry="2.05" fill="#fff" stroke="#1c1c1c" stroke-width="1.85"/>
<ellipse cx="193.00" cy="355.30" rx="2.4" ry="2.05" fill="#fff" stroke="#1c1c1c" stroke-width="1.85"/>
<ellipse cx="190.50" cy="362.30" rx="2.4" ry="2.05" fill="#fff" stroke="#1c1c1c" stroke-width="1.85"/>
<ellipse cx="196.70" cy="365.90" rx="2.4" ry="2.05" fill="#fff" stroke="#1c1c1c" stroke-width="1.85"/>
<ellipse cx="185.50" cy="372.90" rx="2.4" ry="2.05" fill="#fff" stroke="#1c1c1c" stroke-width="1.85"/>
<ellipse cx="193.00" cy="372.90" rx="2.4" ry="2.05" fill="#fff" stroke="#1c1c1c" stroke-width="1.85"/>
<ellipse cx="200.30" cy="372.90" rx="2.4" ry="2.05" fill="#fff" stroke="#1c1c1c" stroke-width="1.85"/>
<ellipse cx="221.90" cy="304.20" rx="2.4" ry="2.05" fill="#fff" stroke="#1c1c1c" stroke-width="1.85"/>
<ellipse cx="229.50" cy="306.50" rx="2.4" ry="2.05" fill="#fff" stroke="#1c1c1c" stroke-width="1.85"/>
<ellipse cx="235.90" cy="302.00" rx="2.4" ry="2.05" fill="#fff" stroke="#1c1c1c" stroke-width="1.85"/>
<ellipse cx="229.50" cy="324.40" rx="2.4" ry="2.05" fill="#fff" stroke="#1c1c1c" stroke-width="1.85"/>
<ellipse cx="229.50" cy="338.50" rx="2.4" ry="2.05" fill="#fff" stroke="#1c1c1c" stroke-width="1.85"/>
<ellipse cx="229.50" cy="362.60" rx="2.4" ry="2.05" fill="#fff" stroke="#1c1c1c" stroke-width="1.85"/>
<text transform="translate(49.98,349.09) rotate(-90) scale(0.0915,0.0845)" font-size="100" fill="#1c1c1c" stroke="#1c1c1c" stroke-width="3.98">p-FAK/FAK</text>
<text transform="translate(147.82,278.60) scale(0.1232,0.0912)" font-size="100" fill="#1c1c1c" stroke="#1c1c1c" stroke-width="7.46" stroke-linejoin="round">###</text>
<text transform="translate(216.52,293.70) scale(0.1232,0.0897)" font-size="100" fill="#1c1c1c" stroke="#1c1c1c" stroke-width="7.52" stroke-linejoin="round">###</text>
<text transform="translate(181.20,343.21) scale(0.1257,0.0914)" font-size="100" fill="#1c1c1c" stroke="#1c1c1c" stroke-width="7.37" stroke-linejoin="round">&amp;&amp;&amp;</text>
<text transform="translate(86.50,388.50) rotate(-39) scale(1.12,1)" font-size="7.7" text-anchor="end" fill="#1c1c1c" stroke="#1c1c1c" stroke-width="0.3">Sham</text>
<text transform="translate(122.50,388.50) rotate(-39) scale(1.12,1)" font-size="7.7" text-anchor="end" fill="#1c1c1c" stroke="#1c1c1c" stroke-width="0.3">Vehicle</text>
<text transform="translate(158.70,388.50) rotate(-39) scale(1.12,1)" font-size="7.7" text-anchor="end" fill="#1c1c1c" stroke="#1c1c1c" stroke-width="0.3">rOPN</text>
<text transform="translate(194.50,388.50) rotate(-39) scale(1.12,1)" font-size="7.7" text-anchor="end" fill="#1c1c1c" stroke="#1c1c1c" stroke-width="0.3">Fib-14</text>
<text transform="translate(230.20,388.50) rotate(-39) scale(1.12,1)" font-size="7.7" text-anchor="end" fill="#1c1c1c" stroke="#1c1c1c" stroke-width="0.3">DMSO</text>
<line x1="143.70" y1="404.50" x2="243.40" y2="404.50" stroke="#1c1c1c" stroke-width="1.2"/>
<text transform="translate(181.31,411.65) scale(0.0876,0.0725)" font-size="100" fill="#1c1c1c" stroke="#1c1c1c" stroke-width="4.37" stroke-linejoin="round">rOPN</text>
<line x1="109.00" y1="413.50" x2="245.00" y2="413.50" stroke="#1c1c1c" stroke-width="1.2"/>
<text transform="translate(164.46,421.55) scale(0.0874,0.0782)" font-size="100" fill="#1c1c1c" stroke="#1c1c1c" stroke-width="4.23" stroke-linejoin="round">SAH</text>
<rect x="343.2" y="223.5" width="170.5" height="22.1" fill="#8f8f8f"/>
<rect x="343.2" y="247.1" width="170.5" height="20.9" fill="#848484"/>
<g clip-path="url(#c3)">
<rect x="348.6" y="235.5" width="25.4" height="3.2" rx="1.6" fill="#4a4a4a" opacity="0.8" filter="url(#b2)"/>
<rect x="380.5" y="226.8" width="27.5" height="17" rx="3" fill="#2e2e2e" opacity="0.95" filter="url(#b3)"/>
<rect x="382.5" y="226.9" width="23.5" height="6.5" rx="3" fill="#161616" opacity="0.9" filter="url(#b2)"/>
<rect x="383.5" y="236.5" width="23.0" height="6" rx="3.0" fill="#1c1c1c" opacity="0.85" filter="url(#b2)"/>
<rect x="414.0" y="227.0" width="28.0" height="14" rx="3" fill="#484848" opacity="0.8" filter="url(#b3)"/>
<rect x="416.0" y="228.4" width="24.0" height="4.8" rx="2.4" fill="#2a2a2a" opacity="0.8" filter="url(#b2)"/>
<rect x="416.0" y="234.4" width="24.0" height="4.8" rx="2.4" fill="#303030" opacity="0.75" filter="url(#b2)"/>
<rect x="446.5" y="226.0" width="30.5" height="15" rx="3" fill="#3c3c3c" opacity="0.85" filter="url(#b3)"/>
<rect x="448.5" y="227.6" width="27.0" height="5.6" rx="2.8" fill="#060606" opacity="1" filter="url(#b2)"/>
<rect x="449.0" y="234.1" width="26.0" height="5.0" rx="2.5" fill="#0e0e0e" opacity="0.95" filter="url(#b2)"/>
<rect x="483.0" y="232.3" width="23.0" height="6" rx="3.0" fill="#555" opacity="0.8" filter="url(#b3)"/>
<rect x="343.2" y="223.5" width="170.5" height="22.1" fill="#000" opacity="0.22" filter="url(#grain)"/>
</g><g clip-path="url(#c4)">
<rect x="347.7" y="251.9" width="26.3" height="3.5" rx="1.75" fill="#0e0e0e" opacity="1" filter="url(#b1)"/>
<rect x="346.0" y="258.2" width="29.7" height="5.6" rx="2.8" fill="#0c0c0c" opacity="1" filter="url(#b1)"/>
<rect x="381.4" y="251.9" width="27.2" height="3.5" rx="1.75" fill="#0e0e0e" opacity="1" filter="url(#b1)"/>
<rect x="379.2" y="258.2" width="31.6" height="5.6" rx="2.8" fill="#0c0c0c" opacity="1" filter="url(#b1)"/>
<rect x="416.0" y="251.9" width="25.5" height="3.5" rx="1.75" fill="#0e0e0e" opacity="1" filter="url(#b1)"/>
<rect x="413.7" y="258.2" width="30.1" height="5.6" rx="2.8" fill="#0c0c0c" opacity="1" filter="url(#b1)"/>
<rect x="449.5" y="251.9" width="25.5" height="3.5" rx="1.75" fill="#0e0e0e" opacity="1" filter="url(#b1)"/>
<rect x="446.7" y="258.2" width="31.3" height="5.6" rx="2.8" fill="#0c0c0c" opacity="1" filter="url(#b1)"/>
<rect x="482.3" y="251.9" width="23.7" height="3.5" rx="1.75" fill="#0e0e0e" opacity="1" filter="url(#b1)"/>
<rect x="479.2" y="258.2" width="32.5" height="5.6" rx="2.8" fill="#0c0c0c" opacity="1" filter="url(#b1)"/>
<rect x="343.2" y="247.1" width="170.5" height="20.9" fill="#000" opacity="0.2" filter="url(#grain)"/>
</g>
<text transform="translate(290.27,239.07) scale(0.1079,0.0979)" font-size="100" fill="#111" stroke="#111" stroke-width="3.40" stroke-linejoin="round">p-ERK 1/2</text>
<text transform="translate(299.76,259.12) scale(0.1096,0.1000)" font-size="100" fill="#111" stroke="#111" stroke-width="3.34" stroke-linejoin="round">ERK 1/2</text>
<text transform="translate(515.04,231.94) scale(0.0896,0.0823)" font-size="100" fill="#111" stroke="#111" stroke-width="4.07" stroke-linejoin="round">44kDa</text>
<text transform="translate(515.04,241.44) scale(0.0896,0.0823)" font-size="100" fill="#111" stroke="#111" stroke-width="4.07" stroke-linejoin="round">42kDa</text>
<text transform="translate(515.04,256.44) scale(0.0896,0.0810)" font-size="100" fill="#111" stroke="#111" stroke-width="4.10" stroke-linejoin="round">44kDa</text>
<text transform="translate(515.04,265.04) scale(0.0896,0.0810)" font-size="100" fill="#111" stroke="#111" stroke-width="4.10" stroke-linejoin="round">42kDa</text>
<rect x="345.90" y="367.90" width="22.20" height="9.20" fill="#fff" stroke="#1c1c1c" stroke-width="1.75"/>
<rect x="381.40" y="327.20" width="22.20" height="49.90" fill="#333" stroke="#1c1c1c" stroke-width="1.75"/>
<clipPath id="k10"><rect x="416.60" y="348.30" width="22.20" height="28.80"/></clipPath>
<rect x="416.60" y="348.30" width="22.20" height="28.80" fill="#fafafa"/>
<path d="M416.60 375.93H438.80M416.60 371.25H438.80M416.60 366.57H438.80M416.60 361.89H438.80M416.60 357.21H438.80M416.60 352.53H438.80M416.60 347.85H438.80" stroke="#505050" stroke-width="2.340" stroke-dasharray="2.700 2.700" stroke-dashoffset="1.620" fill="none" clip-path="url(#k10)"/>
<path d="M416.60 373.59H438.80M416.60 368.91H438.80M416.60 364.23H438.80M416.60 359.55H438.80M416.60 354.87H438.80M416.60 350.19H438.80" stroke="#505050" stroke-width="2.340" stroke-dasharray="2.700 2.700" stroke-dashoffset="4.320" fill="none" clip-path="url(#k10)"/>
<rect x="416.60" y="348.30" width="22.20" height="28.80" fill="none" stroke="#1c1c1c" stroke-width="1.75"/>
<clipPath id="k11"><rect x="451.70" y="319.10" width="22.20" height="58.00"/></clipPath>
<rect x="451.70" y="319.10" width="22.20" height="58.00" fill="#262626"/>
<line x1="452.93" y1="319.10" x2="452.93" y2="377.10" stroke="#8a8a8a" stroke-width="1.0"/>
<line x1="455.48" y1="319.10" x2="455.48" y2="377.10" stroke="#ffffff" stroke-width="1.6"/>
<line x1="459.68" y1="319.10" x2="459.68" y2="377.10" stroke="#ffffff" stroke-width="1.7"/>
<line x1="464.28" y1="319.10" x2="464.28" y2="377.10" stroke="#ffffff" stroke-width="1.7"/>
<line x1="468.88" y1="319.10" x2="468.88" y2="377.10" stroke="#ffffff" stroke-width="1.7"/>
<line x1="472.58" y1="319.10" x2="472.58" y2="377.10" stroke="#8a8a8a" stroke-width="1.0"/>
<rect x="451.70" y="319.10" width="22.20" height="58.00" fill="none" stroke="#1c1c1c" stroke-width="1.75"/>
<clipPath id="k12"><rect x="487.10" y="358.90" width="22.20" height="18.20"/></clipPath>
<rect x="487.10" y="358.90" width="22.20" height="18.20" fill="#8e8e8e"/>
<path d="M486.10 395.55L510.30 376.30M486.10 389.65L510.30 370.40M486.10 383.75L510.30 364.50M486.10 377.85L510.30 358.60M486.10 371.95L510.30 352.70M486.10 366.05L510.30 346.80M486.10 360.15L510.30 340.90" stroke="#262626" stroke-width="2.1" fill="none" clip-path="url(#k12)"/>
<rect x="487.10" y="358.90" width="22.20" height="18.20" fill="none" stroke="#1c1c1c" stroke-width="1.75"/>
<line x1="338.50" y1="274.10" x2="338.50" y2="377.80" stroke="#1c1c1c" stroke-width="1.5"/>
<line x1="337.80" y1="377.10" x2="517.50" y2="377.10" stroke="#1c1c1c" stroke-width="1.5"/>
<line x1="335.90" y1="274.80" x2="338.50" y2="274.80" stroke="#1c1c1c" stroke-width="1.5"/>
<text transform="translate(334.00,277.82) scale(1.05,1)" font-size="8.4" text-anchor="end" fill="#1c1c1c" stroke="#1c1c1c" stroke-width="0.25">10</text>
<line x1="335.90" y1="295.26" x2="338.50" y2="295.26" stroke="#1c1c1c" stroke-width="1.5"/>
<text transform="translate(334.00,298.28) scale(1.05,1)" font-size="8.4" text-anchor="end" fill="#1c1c1c" stroke="#1c1c1c" stroke-width="0.25">8</text>
<line x1="335.90" y1="315.72" x2="338.50" y2="315.72" stroke="#1c1c1c" stroke-width="1.5"/>
<text transform="translate(334.00,318.74) scale(1.05,1)" font-size="8.4" text-anchor="end" fill="#1c1c1c" stroke="#1c1c1c" stroke-width="0.25">6</text>
<line x1="335.90" y1="336.18" x2="338.50" y2="336.18" stroke="#1c1c1c" stroke-width="1.5"/>
<text transform="translate(334.00,339.20) scale(1.05,1)" font-size="8.4" text-anchor="end" fill="#1c1c1c" stroke="#1c1c1c" stroke-width="0.25">4</text>
<line x1="335.90" y1="356.64" x2="338.50" y2="356.64" stroke="#1c1c1c" stroke-width="1.5"/>
<text transform="translate(334.00,359.66) scale(1.05,1)" font-size="8.4" text-anchor="end" fill="#1c1c1c" stroke="#1c1c1c" stroke-width="0.25">2</text>
<line x1="335.90" y1="377.10" x2="338.50" y2="377.10" stroke="#1c1c1c" stroke-width="1.5"/>
<text transform="translate(334.00,380.12) scale(1.05,1)" font-size="8.4" text-anchor="end" fill="#1c1c1c" stroke="#1c1c1c" stroke-width="0.25">0</text>
<line x1="357.00" y1="377.10" x2="357.00" y2="379.70" stroke="#1c1c1c" stroke-width="1.5"/>
<line x1="392.50" y1="377.10" x2="392.50" y2="379.70" stroke="#1c1c1c" stroke-width="1.5"/>
<line x1="427.70" y1="377.10" x2="427.70" y2="379.70" stroke="#1c1c1c" stroke-width="1.5"/>
<line x1="462.80" y1="377.10" x2="462.80" y2="379.70" stroke="#1c1c1c" stroke-width="1.5"/>
<line x1="498.20" y1="377.10" x2="498.20" y2="379.70" stroke="#1c1c1c" stroke-width="1.5"/>
<line x1="357.00" y1="363.50" x2="357.00" y2="371.50" stroke="#1c1c1c" stroke-width="1.55"/>
<line x1="352.00" y1="363.50" x2="362.00" y2="363.50" stroke="#1c1c1c" stroke-width="1.55"/>
<line x1="352.00" y1="371.50" x2="362.00" y2="371.50" stroke="#1c1c1c" stroke-width="1.55"/>
<line x1="392.50" y1="315.50" x2="392.50" y2="338.50" stroke="#1c1c1c" stroke-width="1.55"/>
<line x1="386.75" y1="315.50" x2="398.25" y2="315.50" stroke="#1c1c1c" stroke-width="1.55"/>
<line x1="386.75" y1="338.50" x2="398.25" y2="338.50" stroke="#1c1c1c" stroke-width="1.55"/>
<line x1="427.70" y1="340.10" x2="427.70" y2="357.50" stroke="#1c1c1c" stroke-width="1.55"/>
<line x1="422.10" y1="340.10" x2="433.30" y2="340.10" stroke="#1c1c1c" stroke-width="1.55"/>
<line x1="422.10" y1="357.50" x2="433.30" y2="357.50" stroke="#1c1c1c" stroke-width="1.55"/>
<line x1="462.80" y1="296.40" x2="462.80" y2="340.70" stroke="#1c1c1c" stroke-width="1.55"/>
<line x1="456.80" y1="296.40" x2="468.80" y2="296.40" stroke="#1c1c1c" stroke-width="1.55"/>
<line x1="456.80" y1="340.70" x2="468.80" y2="340.70" stroke="#1c1c1c" stroke-width="1.55"/>
<line x1="498.20" y1="352.50" x2="498.20" y2="365.50" stroke="#1c1c1c" stroke-width="1.55"/>
<line x1="492.00" y1="352.50" x2="504.40" y2="352.50" stroke="#1c1c1c" stroke-width="1.55"/>
<line x1="492.00" y1="365.50" x2="504.40" y2="365.50" stroke="#1c1c1c" stroke-width="1.55"/>
<ellipse cx="348.20" cy="363.10" rx="2.4" ry="2.05" fill="#fff" stroke="#1c1c1c" stroke-width="1.85"/>
<ellipse cx="354.10" cy="365.40" rx="2.4" ry="2.05" fill="#fff" stroke="#1c1c1c" stroke-width="1.85"/>
<ellipse cx="359.70" cy="365.40" rx="2.4" ry="2.05" fill="#fff" stroke="#1c1c1c" stroke-width="1.85"/>
<ellipse cx="365.80" cy="364.00" rx="2.4" ry="2.05" fill="#fff" stroke="#1c1c1c" stroke-width="1.85"/>
<ellipse cx="353.20" cy="373.80" rx="2.4" ry="2.05" fill="#fff" stroke="#1c1c1c" stroke-width="1.85"/>
<ellipse cx="359.70" cy="371.50" rx="2.4" ry="2.05" fill="#fff" stroke="#1c1c1c" stroke-width="1.85"/>
<ellipse cx="384.90" cy="315.50" rx="2.4" ry="2.05" fill="#fff" stroke="#1c1c1c" stroke-width="1.85"/>
<ellipse cx="398.90" cy="314.90" rx="2.4" ry="2.05" fill="#fff" stroke="#1c1c1c" stroke-width="1.85"/>
<ellipse cx="391.90" cy="320.20" rx="2.4" ry="2.05" fill="#fff" stroke="#1c1c1c" stroke-width="1.85"/>
<ellipse cx="384.90" cy="335.90" rx="2.4" ry="2.05" fill="#fff" stroke="#1c1c1c" stroke-width="1.85"/>
<ellipse cx="391.90" cy="338.50" rx="2.4" ry="2.05" fill="#fff" stroke="#1c1c1c" stroke-width="1.85"/>
<ellipse cx="399.50" cy="335.90" rx="2.4" ry="2.05" fill="#fff" stroke="#1c1c1c" stroke-width="1.85"/>
<ellipse cx="419.90" cy="338.50" rx="2.4" ry="2.05" fill="#fff" stroke="#1c1c1c" stroke-width="1.85"/>
<ellipse cx="427.40" cy="342.10" rx="2.4" ry="2.05" fill="#fff" stroke="#1c1c1c" stroke-width="1.85"/>
<ellipse cx="434.40" cy="341.30" rx="2.4" ry="2.05" fill="#fff" stroke="#1c1c1c" stroke-width="1.85"/>
<ellipse cx="427.40" cy="350.50" rx="2.4" ry="2.05" fill="#fff" stroke="#1c1c1c" stroke-width="1.85"/>
<ellipse cx="424.10" cy="358.10" rx="2.4" ry="2.05" fill="#fff" stroke="#1c1c1c" stroke-width="1.85"/>
<ellipse cx="430.80" cy="358.10" rx="2.4" ry="2.05" fill="#fff" stroke="#1c1c1c" stroke-width="1.85"/>
<ellipse cx="462.50" cy="286.00" rx="2.4" ry="2.05" fill="#fff" stroke="#1c1c1c" stroke-width="1.85"/>
<ellipse cx="462.50" cy="299.20" rx="2.4" ry="2.05" fill="#fff" stroke="#1c1c1c" stroke-width="1.85"/>
<ellipse cx="462.50" cy="319.70" rx="2.4" ry="2.05" fill="#fff" stroke="#1c1c1c" stroke-width="1.85"/>
<ellipse cx="458.80" cy="328.90" rx="2.4" ry="2.05" fill="#fff" stroke="#1c1c1c" stroke-width="1.85"/>
<ellipse cx="466.10" cy="333.10" rx="2.4" ry="2.05" fill="#fff" stroke="#1c1c1c" stroke-width="1.85"/>
<ellipse cx="462.50" cy="344.90" rx="2.4" ry="2.05" fill="#fff" stroke="#1c1c1c" stroke-width="1.85"/>
<ellipse cx="497.50" cy="348.50" rx="2.4" ry="2.05" fill="#fff" stroke="#1c1c1c" stroke-width="1.85"/>
<ellipse cx="489.10" cy="355.30" rx="2.4" ry="2.05" fill="#fff" stroke="#1c1c1c" stroke-width="1.85"/>
<ellipse cx="494.20" cy="359.50" rx="2.4" ry="2.05" fill="#fff" stroke="#1c1c1c" stroke-width="1.85"/>
<ellipse cx="500.90" cy="360.30" rx="2.4" ry="2.05" fill="#fff" stroke="#1c1c1c" stroke-width="1.85"/>
<ellipse cx="507.30" cy="358.90" rx="2.4" ry="2.05" fill="#fff" stroke="#1c1c1c" stroke-width="1.85"/>
<ellipse cx="497.50" cy="365.90" rx="2.4" ry="2.05" fill="#fff" stroke="#1c1c1c" stroke-width="1.85"/>
<text transform="translate(320.68,349.05) rotate(-90) scale(0.0851,0.0845)" font-size="100" fill="#1c1c1c" stroke="#1c1c1c" stroke-width="4.13">p-ERK/ERK</text>
<text transform="translate(381.20,309.41) scale(0.1932,0.1784)" font-size="100" fill="#1c1c1c" stroke="#1c1c1c" stroke-width="2.15" stroke-linejoin="round">***</text>
<text transform="translate(450.59,278.50) scale(0.1286,0.1000)" font-size="100" fill="#1c1c1c" stroke="#1c1c1c" stroke-width="7.00" stroke-linejoin="round">&amp;&amp;&amp;</text>
<text transform="translate(424.33,325.40) scale(0.1113,0.0912)" font-size="100" fill="#1c1c1c" stroke="#1c1c1c" stroke-width="7.90" stroke-linejoin="round">#</text>
<text transform="translate(490.70,339.70) scale(0.1346,0.0912)" font-size="100" fill="#1c1c1c" stroke="#1c1c1c" stroke-width="7.09" stroke-linejoin="round">##</text>
<text transform="translate(359.00,388.90) rotate(-38) scale(1.12,1)" font-size="7.7" text-anchor="end" fill="#1c1c1c" stroke="#1c1c1c" stroke-width="0.3">Sham</text>
<text transform="translate(394.50,388.90) rotate(-38) scale(1.12,1)" font-size="7.7" text-anchor="end" fill="#1c1c1c" stroke="#1c1c1c" stroke-width="0.3">Vehicle</text>
<text transform="translate(429.70,388.90) rotate(-38) scale(1.12,1)" font-size="7.7" text-anchor="end" fill="#1c1c1c" stroke="#1c1c1c" stroke-width="0.3">rOPN</text>
<text transform="translate(464.80,388.90) rotate(-38) scale(1.12,1)" font-size="7.7" text-anchor="end" fill="#1c1c1c" stroke="#1c1c1c" stroke-width="0.3">Fib-14</text>
<text transform="translate(500.20,388.90) rotate(-38) scale(1.12,1)" font-size="7.7" text-anchor="end" fill="#1c1c1c" stroke="#1c1c1c" stroke-width="0.3">DMSO</text>
<line x1="416.40" y1="403.50" x2="512.00" y2="403.50" stroke="#1c1c1c" stroke-width="1.2"/>
<text transform="translate(448.09,410.55) scale(0.0893,0.0725)" font-size="100" fill="#1c1c1c" stroke="#1c1c1c" stroke-width="4.33" stroke-linejoin="round">rOPN</text>
<line x1="380.30" y1="411.80" x2="513.50" y2="411.80" stroke="#1c1c1c" stroke-width="1.2"/>
<text transform="translate(432.56,419.85) scale(0.0864,0.0796)" font-size="100" fill="#1c1c1c" stroke="#1c1c1c" stroke-width="4.22" stroke-linejoin="round">SAH</text>
</svg></body></html>
